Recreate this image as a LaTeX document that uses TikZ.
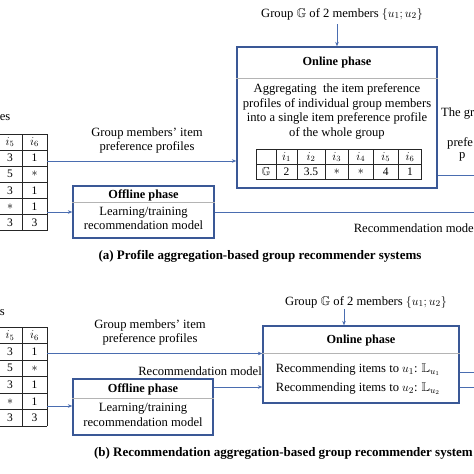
\documentclass[tikz,border=0pt]{standalone}
\usepackage{amssymb}
\usepackage{fontspec}
\setmainfont{Liberation Serif}
\usetikzlibrary{arrows.meta}
\definecolor{boxblue}{HTML}{3A5896}
\definecolor{lineblue}{HTML}{4A6DB0}
\definecolor{sepgray}{HTML}{B4B4B4}
\begin{document}
\begin{tikzpicture}[x=1pt,y=-1pt,
  font=\fontsize{12.6}{14.5}\selectfont,
  phasebox/.style={draw=boxblue, line width=1.3pt, inner sep=0pt},
  conn/.style={draw=lineblue, line width=1pt},
  arr/.style={conn, -{Stealth[length=4.5pt,width=3.5pt]}},
  sepline/.style={draw=sepgray, line width=0.7pt},
  tblline/.style={draw=black!85, line width=0.7pt},
  cell/.style={inner sep=0pt, font=\fontsize{11.5}{13}\selectfont},
  lbl/.style={inner sep=0pt, align=center},
  ttl/.style={inner sep=0pt, font=\fontsize{12.3}{14.5}\selectfont\bfseries},
  captext/.style={inner sep=0pt, font=\fontsize{13}{15}\selectfont\bfseries}]
\useasboundingbox[fill=white] (0,0) rectangle (474,474);

% ===================== (a) =====================
\node[lbl] (groupA) at (342,14) {Group $\mathbb{G}$ of 2 members $\{u_1; u_2\}$};
\node[phasebox, minimum width=200pt, minimum height=141pt] (onA) at (337,117.5) {};
\draw[arr] (groupA.south -| onA.north) ++(0,4) -- (onA.north);
\draw[sepline] (onA.west |- 0,78) -- (onA.east |- 0,78);
\node[ttl] (onAt) at (337,62.5) {Online phase};
\node[lbl] (onAb) at (337,111.5) {Aggregating\ \ the item preference\\profiles of individual group members\\into a single item preference profile\\of the whole group};

% group table
\foreach \yy in {149,164.5,179} \draw[tblline] (256,\yy) -- (421.5,\yy);
\foreach \xx in {256,276,297,325,348.5,373,398.5,421.5} \draw[tblline] (\xx,149) -- (\xx,179);
\foreach \xc/\t [count=\k] in {286.5/$i_1$,311/$i_2$,336.75/$i_3$,360.75/$i_4$,385.75/$i_5$,410/$i_6$}
  \node[cell] (gh\k) at (\xc,157) {\t};
\foreach \xc/\t [count=\k] in {266/$\mathbb{G}$,286.5/2,311/3.5,336.75/$*$,360.75/$*$,385.75/4,410/1}
  \node[cell] (gv\k) at (\xc,172) {\t};

% left table (a)
\foreach \yy in {134,150,166.3,182.3,198.5,214.5,230.5} \draw[tblline] (0,\yy) -- (47,\yy);
\foreach \xx in {22,47} \draw[tblline] (\xx,134) -- (\xx,230.5);
\foreach \a/\b [count=\r] in {$i_5$/$i_6$,3/1,5/$*$,3/1,$*$/1,3/3} {
  \node[cell] (la\r) at (10,{134+16.08*(\r-0.5)}) {\a};
  \node[cell] (lb\r) at (34.5,{134+16.08*(\r-0.5)}) {\b};
}
\node[inner sep=0pt, anchor=east] (esA) at (10.5,118) {es};

\coordinate (tA1) at (47,161);
\coordinate (tA2) at (47,212);
\draw[arr] (tA1) -- (tA1 -| onA.west);
\node[lbl] (lblA) at (147,140.5) {Group members' item\\preference profiles};

\node[phasebox, minimum width=141pt, minimum height=52pt] (offA) at (143.5,212) {};
\draw[sepline] (offA.west |- 0,202.5) -- (offA.east |- 0,202.5);
\node[ttl] (offAt) at (143.5,195) {Offline phase};
\node[lbl] (offAb) at (143.5,218.5) {Learning/training\\recommendation model};
\draw[arr] (tA2) -- (offA.west);

\coordinate (rA1) at (474,212);
\draw[conn] (offA.east) -- (rA1);
\node[inner sep=0pt, anchor=east] (recA) at (474,228) {Recommendation mode};

\coordinate (rA2) at (474,175);
\draw[conn] (onA.east |- rA2) -- (rA2);
\node[inner sep=0pt, anchor=west] (tgA) at (441,113) {The gr};
\node[inner sep=0pt, anchor=west] (tgB) at (447,143) {prefe};
\node[inner sep=0pt, anchor=west] (tgC) at (459,157) {p};

\node[captext] (capA) at (260,256.5) {(a) Profile aggregation-based group recommender systems};

% ===================== (b) =====================
\node[lbl] (groupB) at (366,302) {Group $\mathbb{G}$ of 2 members $\{u_1; u_2\}$};
\node[phasebox, minimum width=196pt, minimum height=77pt] (onB) at (361,364.5) {};
\coordinate (gB) at (344,309);
\draw[arr] (gB) -- (gB |- onB.north);
\draw[sepline] (onB.west |- 0,353) -- (onB.east |- 0,353);
\node[ttl] (onBt) at (361,341) {Online phase};
\node[inner sep=0pt] (onB1) at (358,370) {Recommending items to $u_1$: $\mathbb{L}_{u_1}$};
\node[inner sep=0pt] (onB2) at (358,389) {Recommending items to $u_2$: $\mathbb{L}_{u_2}$};

% left table (b)
\foreach \yy in {327,343.5,360,376.5,393,409.5,426} \draw[tblline] (0,\yy) -- (47,\yy);
\foreach \xx in {22,47} \draw[tblline] (\xx,327) -- (\xx,426);
\foreach \a/\b [count=\r] in {$i_5$/$i_6$,3/1,5/$*$,3/1,$*$/1,3/3} {
  \node[cell] (ma\r) at (10,{327+16.5*(\r-0.5)}) {\a};
  \node[cell] (mb\r) at (34.5,{327+16.5*(\r-0.5)}) {\b};
}
\node[inner sep=0pt, anchor=east] (esB) at (5,313) {s};

\coordinate (tB1) at (47,353.5);
\coordinate (tB2) at (47,406);
\draw[arr] (tB1) -- (tB1 -| onB.west);
\node[lbl] (lblB) at (150,332.5) {Group members' item\\preference profiles};

\node[phasebox, minimum width=140pt, minimum height=56pt] (offB) at (143,407) {};
\draw[sepline] (offB.west |- 0,398) -- (offB.east |- 0,398);
\node[ttl] (offBt) at (143,389) {Offline phase};
\node[lbl] (offBb) at (143,415) {Learning/training\\recommendation model};
\draw[arr] (tB2) -- (tB2 -| offB.west);

\coordinate (mB) at (213,387);
\draw[arr] (mB -| offB.east) -- (mB -| onB.west);
\node[inner sep=0pt, anchor=east] (recB) at (262,371) {Recommendation model};

\coordinate (rB1) at (474,372);
\coordinate (rB2) at (474,387);
\draw[conn] (onB.east |- rB1) -- (rB1);
\draw[conn] (onB.east |- rB2) -- (rB2);

\node[captext, anchor=east] (capB) at (473,453) {(b) Recommendation aggregation-based group recommender system};
\end{tikzpicture}
\end{document}
